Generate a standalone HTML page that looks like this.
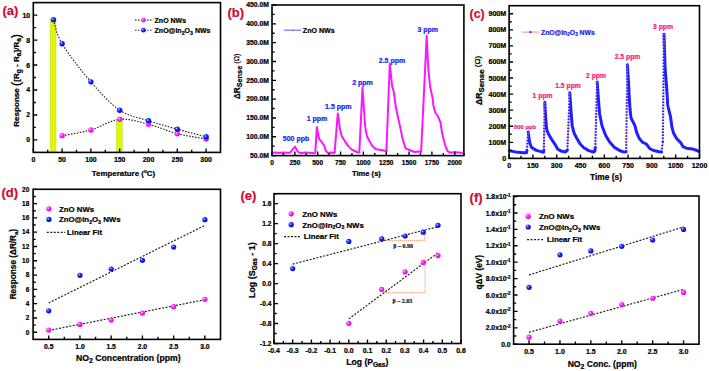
<!DOCTYPE html><html><head><meta charset="utf-8"><style>
html,body{margin:0;padding:0;background:#fff;width:709px;height:371px;overflow:hidden}
svg{display:block}
text{font-family:"Liberation Sans", sans-serif}
</style></head><body>
<svg width="709" height="371" viewBox="0 0 709 371">
<defs>
<radialGradient id="gb" cx="0.35" cy="0.35" r="0.7"><stop offset="0" stop-color="#c8d0ff"/><stop offset="0.35" stop-color="#2030ff"/><stop offset="1" stop-color="#0000d8"/></radialGradient>
<radialGradient id="gp" cx="0.35" cy="0.35" r="0.7"><stop offset="0" stop-color="#ffd0ff"/><stop offset="0.35" stop-color="#ff30ff"/><stop offset="1" stop-color="#e000e0"/></radialGradient>
</defs>
<rect width="709" height="371" fill="#fff"/>

<rect x="50.16" y="19.7" width="5.8" height="132.7" fill="#eaf200" stroke="#a8f048" stroke-width="0.7"/>
<rect x="116.4" y="119.32" width="5.8" height="33.08" fill="#eaf200" stroke="#a8f048" stroke-width="0.7"/>
<path d="M53.46 19.7 L53.81 20.82 L54.17 22.16 L54.54 23.7 L54.95 25.43 L55.43 27.32 L55.98 29.37 L56.63 31.55 L57.41 33.84 L58.32 36.22 L59.39 38.69 L60.65 41.22 L62.1 43.8 L63.79 46.51 L65.73 49.44 L67.88 52.56 L70.21 55.81 L72.67 59.16 L75.24 62.57 L77.88 65.99 L80.55 69.38 L83.23 72.71 L85.87 75.93 L88.44 78.99 L90.9 81.87 L93.3 84.63 L95.7 87.36 L98.1 90.05 L100.5 92.69 L102.9 95.26 L105.3 97.75 L107.7 100.15 L110.1 102.43 L112.5 104.6 L114.9 106.62 L117.3 108.5 L119.7 110.21 L122.1 111.72 L124.5 113.03 L126.9 114.16 L129.3 115.14 L131.7 116 L134.1 116.76 L136.5 117.45 L138.9 118.1 L141.3 118.74 L143.7 119.38 L146.1 120.07 L148.5 120.82 L150.9 121.6 L153.3 122.35 L155.7 123.08 L158.1 123.8 L160.5 124.5 L162.9 125.19 L165.3 125.86 L167.7 126.53 L170.1 127.2 L172.5 127.86 L174.9 128.52 L177.3 129.18 L179.79 129.87 L182.43 130.58 L185.18 131.32 L187.97 132.06 L190.76 132.79 L193.5 133.51 L196.14 134.2 L198.63 134.85 L200.93 135.45 L202.97 135.98 L204.71 136.43 L206.1 136.8" fill="none" stroke="#222" stroke-width="1.15" stroke-dasharray="1.5 1.5"/>
<path d="M62.1 135.67 L63.49 135.41 L65.23 135.1 L67.27 134.75 L69.57 134.36 L72.06 133.93 L74.7 133.46 L77.44 132.96 L80.23 132.42 L83.02 131.84 L85.77 131.24 L88.41 130.6 L90.9 129.93 L93.3 129.17 L95.7 128.26 L98.1 127.25 L100.5 126.18 L102.9 125.06 L105.3 123.95 L107.7 122.88 L110.1 121.88 L112.5 120.99 L114.9 120.24 L117.3 119.67 L119.7 119.32 L122.1 119.18 L124.5 119.2 L126.9 119.37 L129.3 119.67 L131.7 120.07 L134.1 120.57 L136.5 121.13 L138.9 121.75 L141.3 122.39 L143.7 123.05 L146.1 123.69 L148.5 124.31 L150.9 124.95 L153.3 125.67 L155.7 126.44 L158.1 127.26 L160.5 128.11 L162.9 128.98 L165.3 129.84 L167.7 130.7 L170.1 131.52 L172.5 132.3 L174.9 133.03 L177.3 133.68 L179.79 134.27 L182.43 134.85 L185.18 135.4 L187.97 135.92 L190.76 136.42 L193.5 136.88 L196.14 137.31 L198.63 137.71 L200.93 138.07 L202.97 138.4 L204.71 138.68 L206.1 138.92" fill="none" stroke="#222" stroke-width="1.15" stroke-dasharray="1.5 1.5"/>
<circle cx="62.1" cy="135.67" r="2.7" fill="url(#gp)"/>
<circle cx="90.9" cy="129.93" r="2.7" fill="url(#gp)"/>
<circle cx="119.7" cy="119.32" r="2.7" fill="url(#gp)"/>
<circle cx="148.5" cy="124.31" r="2.7" fill="url(#gp)"/>
<circle cx="177.3" cy="133.68" r="2.7" fill="url(#gp)"/>
<circle cx="206.1" cy="138.92" r="2.7" fill="url(#gp)"/>
<circle cx="53.46" cy="19.7" r="2.7" fill="url(#gb)"/>
<circle cx="62.1" cy="43.8" r="2.7" fill="url(#gb)"/>
<circle cx="90.9" cy="81.87" r="2.7" fill="url(#gb)"/>
<circle cx="119.7" cy="110.21" r="2.7" fill="url(#gb)"/>
<circle cx="148.5" cy="120.82" r="2.7" fill="url(#gb)"/>
<circle cx="177.3" cy="129.18" r="2.7" fill="url(#gb)"/>
<circle cx="206.1" cy="136.8" r="2.7" fill="url(#gb)"/>
<rect x="33.3" y="2.6" width="187.2" height="149.8" fill="none" stroke="#000" stroke-width="1.6"/>
<path d="M33.3 152.4V148.4M62.1 152.4V148.4M90.9 152.4V148.4M119.7 152.4V148.4M148.5 152.4V148.4M177.3 152.4V148.4M206.1 152.4V148.4M47.7 152.4V149.8M76.5 152.4V149.8M105.3 152.4V149.8M134.1 152.4V149.8M162.9 152.4V149.8M191.7 152.4V149.8" stroke="#000" stroke-width="1.35"/>
<text x="33.3" y="162" font-size="6.9" text-anchor="middle" font-weight="bold" stroke="#000" stroke-width="0.22">0</text>
<text x="62.1" y="162" font-size="6.9" text-anchor="middle" font-weight="bold" stroke="#000" stroke-width="0.22">50</text>
<text x="90.9" y="162" font-size="6.9" text-anchor="middle" font-weight="bold" stroke="#000" stroke-width="0.22">100</text>
<text x="119.7" y="162" font-size="6.9" text-anchor="middle" font-weight="bold" stroke="#000" stroke-width="0.22">150</text>
<text x="148.5" y="162" font-size="6.9" text-anchor="middle" font-weight="bold" stroke="#000" stroke-width="0.22">200</text>
<text x="177.3" y="162" font-size="6.9" text-anchor="middle" font-weight="bold" stroke="#000" stroke-width="0.22">250</text>
<text x="206.1" y="162" font-size="6.9" text-anchor="middle" font-weight="bold" stroke="#000" stroke-width="0.22">300</text>
<path d="M33.3 139.92H37.3M33.3 114.95H37.3M33.3 89.98H37.3M33.3 65.02H37.3M33.3 40.05H37.3M33.3 15.08H37.3M33.3 127.43H35.9M33.3 102.47H35.9M33.3 77.5H35.9M33.3 52.53H35.9M33.3 27.57H35.9M33.3 152.4H35.9" stroke="#000" stroke-width="1.35"/>
<text x="30.1" y="142.42" font-size="6.9" text-anchor="end" font-weight="bold" stroke="#000" stroke-width="0.22">0</text>
<text x="30.1" y="117.45" font-size="6.9" text-anchor="end" font-weight="bold" stroke="#000" stroke-width="0.22">2</text>
<text x="30.1" y="92.48" font-size="6.9" text-anchor="end" font-weight="bold" stroke="#000" stroke-width="0.22">4</text>
<text x="30.1" y="67.52" font-size="6.9" text-anchor="end" font-weight="bold" stroke="#000" stroke-width="0.22">6</text>
<text x="30.1" y="42.55" font-size="6.9" text-anchor="end" font-weight="bold" stroke="#000" stroke-width="0.22">8</text>
<text x="30.1" y="17.58" font-size="6.9" text-anchor="end" font-weight="bold" stroke="#000" stroke-width="0.22">10</text>
<path d="M135 20.1 L152.6 20.1" fill="none" stroke="#333" stroke-width="1.1" stroke-dasharray="1.5 1.5"/>
<circle cx="143.4" cy="20.1" r="2.4" fill="url(#gp)"/>
<text x="154.6" y="22.8" font-size="7.0" text-anchor="start" font-weight="bold" fill="#000" stroke="#000" stroke-width="0.22" >ZnO NWs</text>
<path d="M135 30.2 L152.6 30.2" fill="none" stroke="#333" stroke-width="1.1" stroke-dasharray="1.5 1.5"/>
<circle cx="143.4" cy="30.2" r="2.4" fill="url(#gb)"/>
<text x="154.6" y="32.9" font-size="7.0" text-anchor="start" font-weight="bold" fill="#000" stroke="#000" stroke-width="0.22" >ZnO@In<tspan font-size="5.3" dy="2">2</tspan><tspan dy="-2">O</tspan><tspan font-size="5.3" dy="2">3</tspan><tspan dy="-2"> NWs</tspan></text>
<text x="123.5" y="176" font-size="7.9" text-anchor="middle" font-weight="bold" fill="#000" stroke="#000" stroke-width="0.22" >Temperature (<tspan font-size="4.8" dy="-2.8">o</tspan><tspan dy="2.8">C)</tspan></text>
<g transform="translate(19.2 80.3) rotate(-90) scale(1.0350)">
<text x="0" y="0" font-size="7.8" text-anchor="middle" font-weight="bold" fill="#000" stroke="#000" stroke-width="0.22" >Response <tspan font-size="12.5" font-weight="normal" dy="0.8">(</tspan><tspan dy="-0.8">[R</tspan><tspan font-size="6.3" dy="1.9">g</tspan><tspan dy="-1.9"> - R</tspan><tspan font-size="6.3" dy="1.9">a</tspan><tspan dy="-1.9">]/R</tspan><tspan font-size="6.3" dy="1.9">a</tspan><tspan dy="-1.1" font-size="12.5" font-weight="normal">)</tspan></text>
</g>
<g transform="translate(2.5 15) scale(1.0000 1.0000)">
<text x="0" y="0" font-size="13" text-anchor="start" font-weight="bold" fill="#d20a32" stroke="#d20a32" stroke-width="0.22" >(a)</text>
</g>
<path d="M272.4 152.8 L275.7 152.4 L279.4 153 L283.2 152.5 L288.9 152.8 L290.3 152.4 L295 146.5 L297.8 151.9 L301.1 153.3 L304.9 152.5 L309.6 152.8 L314.3 153.3 L315.3 152.6 L316.9 126.9 L319 138.9 L321.7 142 L324.3 145.9 L326 151.1 L327.8 152.9 L331 152.5 L334.6 152.9 L337.8 113.4 L340.1 130.1 L341.8 136.2 L344.5 140.6 L348 145.9 L351.5 149.4 L356.8 152 L359.3 152.6 L362.5 87.5 L364 110.2 L365.3 127.4 L366.9 136 L369 140.3 L372.2 145.7 L375.5 149 L380.9 150 L385.2 150.7 L386.4 151.2 L389.8 63.5 L392.1 86.1 L393.8 91.8 L395.7 106 L398.6 120.1 L400.5 128.6 L402.8 139.9 L405.6 148.4 L411.3 150.7 L415 152 L418.5 151.5 L421.1 152 L426.7 35.7 L428.2 67.7 L430.1 86.6 L432.9 99.8 L433.4 105.5 L435.2 112.5 L437.8 116 L440.4 122.2 L442.2 133.6 L444.8 144.1 L447.5 151.1 L450.1 152.5 L456 152.2 L462.8 152.9" fill="none" stroke="#ff14ff" stroke-width="2.0" stroke-linejoin="round"/>
<rect x="272" y="5" width="191.9" height="150.6" fill="none" stroke="#000" stroke-width="1.6"/>
<path d="M272 155.6V151.6M294.85 155.6V151.6M317.69 155.6V151.6M340.54 155.6V151.6M363.38 155.6V151.6M386.23 155.6V151.6M409.07 155.6V151.6M431.92 155.6V151.6M454.76 155.6V151.6M283.42 155.6V153M306.27 155.6V153M329.11 155.6V153M351.96 155.6V153M374.8 155.6V153M397.65 155.6V153M420.49 155.6V153M443.34 155.6V153M463.9 155.6V153" stroke="#000" stroke-width="1.35"/>
<text x="272" y="165" font-size="6.5" text-anchor="middle" font-weight="bold" stroke="#000" stroke-width="0.22">0</text>
<text x="294.85" y="165" font-size="6.5" text-anchor="middle" font-weight="bold" stroke="#000" stroke-width="0.22">250</text>
<text x="317.69" y="165" font-size="6.5" text-anchor="middle" font-weight="bold" stroke="#000" stroke-width="0.22">500</text>
<text x="340.54" y="165" font-size="6.5" text-anchor="middle" font-weight="bold" stroke="#000" stroke-width="0.22">750</text>
<text x="363.38" y="165" font-size="6.5" text-anchor="middle" font-weight="bold" stroke="#000" stroke-width="0.22">1000</text>
<text x="386.23" y="165" font-size="6.5" text-anchor="middle" font-weight="bold" stroke="#000" stroke-width="0.22">1250</text>
<text x="409.07" y="165" font-size="6.5" text-anchor="middle" font-weight="bold" stroke="#000" stroke-width="0.22">1500</text>
<text x="431.92" y="165" font-size="6.5" text-anchor="middle" font-weight="bold" stroke="#000" stroke-width="0.22">1750</text>
<text x="454.76" y="165" font-size="6.5" text-anchor="middle" font-weight="bold" stroke="#000" stroke-width="0.22">2000</text>
<path d="M272 155.6H276M272 136.78H276M272 117.95H276M272 99.12H276M272 80.3H276M272 61.47H276M272 42.65H276M272 23.82H276M272 5H276M272 146.19H274.6M272 127.36H274.6M272 108.54H274.6M272 89.71H274.6M272 70.89H274.6M272 52.06H274.6M272 33.24H274.6M272 14.41H274.6" stroke="#000" stroke-width="1.35"/>
<text x="268.9" y="157.9" font-size="6.8" text-anchor="end" font-weight="bold" stroke="#000" stroke-width="0.22">50.0M</text>
<text x="268.9" y="139.08" font-size="6.8" text-anchor="end" font-weight="bold" stroke="#000" stroke-width="0.22">100.0M</text>
<text x="268.9" y="120.25" font-size="6.8" text-anchor="end" font-weight="bold" stroke="#000" stroke-width="0.22">150.0M</text>
<text x="268.9" y="101.42" font-size="6.8" text-anchor="end" font-weight="bold" stroke="#000" stroke-width="0.22">200.0M</text>
<text x="268.9" y="82.6" font-size="6.8" text-anchor="end" font-weight="bold" stroke="#000" stroke-width="0.22">250.0M</text>
<text x="268.9" y="63.77" font-size="6.8" text-anchor="end" font-weight="bold" stroke="#000" stroke-width="0.22">300.0M</text>
<text x="268.9" y="44.95" font-size="6.8" text-anchor="end" font-weight="bold" stroke="#000" stroke-width="0.22">350.0M</text>
<text x="268.9" y="26.12" font-size="6.8" text-anchor="end" font-weight="bold" stroke="#000" stroke-width="0.22">400.0M</text>
<text x="268.9" y="7.3" font-size="6.8" text-anchor="end" font-weight="bold" stroke="#000" stroke-width="0.22">450.0M</text>
<path d="M284 30.2H301.2" stroke="#4848ff" stroke-width="0.9"/>
<path d="M292.4 30.2H294" stroke="#ff2040" stroke-width="1.1"/>
<text x="302.8" y="32.7" font-size="7.1" text-anchor="start" font-weight="bold" fill="#000" stroke="#000" stroke-width="0.22" >ZnO NWs</text>
<text x="296" y="141.2" font-size="7" text-anchor="middle" font-weight="bold" fill="#2222ee" stroke="#2222ee" stroke-width="0.22" >500 ppb</text>
<text x="317" y="121.3" font-size="7" text-anchor="middle" font-weight="bold" fill="#2222ee" stroke="#2222ee" stroke-width="0.22" >1 ppm</text>
<text x="338.3" y="108.9" font-size="7" text-anchor="middle" font-weight="bold" fill="#2222ee" stroke="#2222ee" stroke-width="0.22" >1.5 ppm</text>
<text x="362.5" y="84.5" font-size="7" text-anchor="middle" font-weight="bold" fill="#2222ee" stroke="#2222ee" stroke-width="0.22" >2 ppm</text>
<text x="392" y="63" font-size="7" text-anchor="middle" font-weight="bold" fill="#2222ee" stroke="#2222ee" stroke-width="0.22" >2.5 ppm</text>
<text x="427.8" y="32.3" font-size="7" text-anchor="middle" font-weight="bold" fill="#2222ee" stroke="#2222ee" stroke-width="0.22" >3 ppm</text>
<text x="366.4" y="176.2" font-size="7.6" text-anchor="middle" font-weight="bold" fill="#000" stroke="#000" stroke-width="0.22" >Time (s)</text>
<g transform="translate(240.1 76.3) rotate(-90) scale(0.9917)">
<text x="0" y="0" font-size="8.2" text-anchor="middle" font-weight="bold" fill="#000" stroke="#000" stroke-width="0.22" >ΔR<tspan font-size="7.4" dy="2.2">Sense</tspan><tspan dy="-3.2" font-size="7.3" font-weight="normal"> (Ω)</tspan></text>
</g>
<g transform="translate(227.4 16.9) scale(1.0000 1.0000)">
<text x="0" y="0" font-size="13" text-anchor="start" font-weight="bold" fill="#d20a32" stroke="#d20a32" stroke-width="0.22" >(b)</text>
</g>
<path d="M509.6 150.8L515.5 151.9L523.1 152.8L526.5 152.8L526.9 150.4M528.2 132.1L529.7 142.8L531.6 147.5L536.3 150.4L542 151.9L543.5 152.3L543.8 150.4M544.8 102.3L545.7 118.3L546.7 129.6L548.6 134.3L551.4 139.1L555.2 144.7L558 149.4L561.8 151.3L565.5 151.9L567.3 150.1M569.8 92.8L571.2 113.7L572.2 125.8L574.1 133.1L576.6 138L580.2 144L583.8 147.7L588.7 150.6L593.6 152L594.8 151.3L595.3 147.7M597.2 81.9L598.4 99.1L599.6 113.7L602 125.8L605.7 135.5L609.3 141.6L614.2 147.2L619 150.1L621.5 151.3L624.5 152.1L626.1 151.8M627.4 64.8L628.5 82.4L629.3 98.5L630.1 110L631 117.8L633.4 122.7L635 125.9L636.6 132.4L639 138L642.3 142.1L646.3 144L648 146.1L649.6 148.5L653.6 150.5L659.3 151.8L661.5 152.1M664 34.2L665.1 68.1L666.8 89.7L667.7 104.7L668 106.5L670.4 116.2L672 127.5L673.6 133.2L676.8 138.8L680.9 142.9L683.3 146.9L686.6 148.2L692.2 148.9L697.1 150.5L698.7 151.5" fill="none" stroke="#2020ff" stroke-width="3.0" stroke-linejoin="round" stroke-linecap="round"/>
<path d="M526.9 150.4L528.2 132.1M543.8 150.4L544.8 102.3M567.3 150.1L569.8 92.8M595.3 147.7L597.2 81.9M626.1 151.8L627.4 64.8M661.5 152.1L662.8 142M662.8 142L664 34.2" fill="none" stroke="#ff9aa8" stroke-width="0.8"/>
<path d="M526.9 150.4L528.2 132.1M543.8 150.4L544.8 102.3M567.3 150.1L569.8 92.8M595.3 147.7L597.2 81.9M626.1 151.8L627.4 64.8M661.5 152.1L662.8 142M662.8 142L664 34.2" fill="none" stroke="#2020ff" stroke-width="2.2" stroke-dasharray="1.6 1.4"/>
<rect x="509.1" y="5.7" width="190.4" height="152.7" fill="none" stroke="#000" stroke-width="1.6"/>
<path d="M509.1 158.4V154.4M532.9 158.4V154.4M556.7 158.4V154.4M580.5 158.4V154.4M604.3 158.4V154.4M628.1 158.4V154.4M651.9 158.4V154.4M675.7 158.4V154.4M699.5 158.4V154.4M521 158.4V155.8M544.8 158.4V155.8M568.6 158.4V155.8M592.4 158.4V155.8M616.2 158.4V155.8M640 158.4V155.8M663.8 158.4V155.8M687.6 158.4V155.8" stroke="#000" stroke-width="1.35"/>
<text x="509.1" y="168" font-size="7.0" text-anchor="middle" font-weight="bold" stroke="#000" stroke-width="0.22">0</text>
<text x="532.9" y="168" font-size="7.0" text-anchor="middle" font-weight="bold" stroke="#000" stroke-width="0.22">150</text>
<text x="556.7" y="168" font-size="7.0" text-anchor="middle" font-weight="bold" stroke="#000" stroke-width="0.22">300</text>
<text x="580.5" y="168" font-size="7.0" text-anchor="middle" font-weight="bold" stroke="#000" stroke-width="0.22">450</text>
<text x="604.3" y="168" font-size="7.0" text-anchor="middle" font-weight="bold" stroke="#000" stroke-width="0.22">600</text>
<text x="628.1" y="168" font-size="7.0" text-anchor="middle" font-weight="bold" stroke="#000" stroke-width="0.22">750</text>
<text x="651.9" y="168" font-size="7.0" text-anchor="middle" font-weight="bold" stroke="#000" stroke-width="0.22">900</text>
<text x="675.7" y="168" font-size="7.0" text-anchor="middle" font-weight="bold" stroke="#000" stroke-width="0.22">1050</text>
<text x="699.5" y="168" font-size="7.0" text-anchor="middle" font-weight="bold" stroke="#000" stroke-width="0.22">1200</text>
<path d="M509.1 158.4H513.1M509.1 142.33H513.1M509.1 126.25H513.1M509.1 110.18H513.1M509.1 94.11H513.1M509.1 78.03H513.1M509.1 61.96H513.1M509.1 45.88H513.1M509.1 29.81H513.1M509.1 13.74H513.1M509.1 150.36H511.7M509.1 134.29H511.7M509.1 118.22H511.7M509.1 102.14H511.7M509.1 86.07H511.7M509.1 69.99H511.7M509.1 53.92H511.7M509.1 37.85H511.7M509.1 21.77H511.7" stroke="#000" stroke-width="1.35"/>
<text x="506.2" y="160.9" font-size="7.1" text-anchor="end" font-weight="bold" stroke="#000" stroke-width="0.22">0</text>
<text x="506.2" y="144.83" font-size="7.1" text-anchor="end" font-weight="bold" stroke="#000" stroke-width="0.22">100M</text>
<text x="506.2" y="128.75" font-size="7.1" text-anchor="end" font-weight="bold" stroke="#000" stroke-width="0.22">200M</text>
<text x="506.2" y="112.68" font-size="7.1" text-anchor="end" font-weight="bold" stroke="#000" stroke-width="0.22">300M</text>
<text x="506.2" y="96.61" font-size="7.1" text-anchor="end" font-weight="bold" stroke="#000" stroke-width="0.22">400M</text>
<text x="506.2" y="80.53" font-size="7.1" text-anchor="end" font-weight="bold" stroke="#000" stroke-width="0.22">500M</text>
<text x="506.2" y="64.46" font-size="7.1" text-anchor="end" font-weight="bold" stroke="#000" stroke-width="0.22">600M</text>
<text x="506.2" y="48.38" font-size="7.1" text-anchor="end" font-weight="bold" stroke="#000" stroke-width="0.22">700M</text>
<text x="506.2" y="32.31" font-size="7.1" text-anchor="end" font-weight="bold" stroke="#000" stroke-width="0.22">800M</text>
<text x="506.2" y="16.24" font-size="7.1" text-anchor="end" font-weight="bold" stroke="#000" stroke-width="0.22">900M</text>
<path d="M521.5 32.1H539" stroke="#ffa0a0" stroke-width="1.2"/>
<circle cx="530.5" cy="32.1" r="1.1" fill="#1a1aff"/>
<text x="541" y="34.5" font-size="6.8" text-anchor="start" font-weight="bold" fill="#2222ee" stroke="#2222ee" stroke-width="0.22" >ZnO@In<tspan font-size="4.6" dy="1.6">2</tspan><tspan dy="-1.6">O</tspan><tspan font-size="4.6" dy="1.6">3</tspan><tspan dy="-1.6"> NWs</tspan></text>
<text x="525.1" y="128.7" font-size="5.9" text-anchor="middle" font-weight="bold" fill="#f52080" stroke="#f52080" stroke-width="0.22" >500 ppb</text>
<text x="542.6" y="98" font-size="6.8" text-anchor="middle" font-weight="bold" fill="#f52080" stroke="#f52080" stroke-width="0.22" >1 ppm</text>
<text x="568" y="87.8" font-size="6.8" text-anchor="middle" font-weight="bold" fill="#f52080" stroke="#f52080" stroke-width="0.22" >1.5 ppm</text>
<text x="596" y="78" font-size="6.8" text-anchor="middle" font-weight="bold" fill="#f52080" stroke="#f52080" stroke-width="0.22" >2 ppm</text>
<text x="627.5" y="59.3" font-size="6.8" text-anchor="middle" font-weight="bold" fill="#f52080" stroke="#f52080" stroke-width="0.22" >2.5 ppm</text>
<text x="663" y="29.3" font-size="6.8" text-anchor="middle" font-weight="bold" fill="#f52080" stroke="#f52080" stroke-width="0.22" >3 ppm</text>
<text x="606" y="179.9" font-size="8.4" text-anchor="middle" font-weight="bold" fill="#000" stroke="#000" stroke-width="0.22" >Time (s)</text>
<g transform="translate(481.7 80.4) rotate(-90) scale(1.0634)">
<text x="0" y="0" font-size="8.2" text-anchor="middle" font-weight="bold" fill="#000" stroke="#000" stroke-width="0.22" >ΔR<tspan font-size="7.4" dy="2.2">Sense</tspan><tspan dy="-3.4" font-size="7.6" font-weight="normal"> (Ω)</tspan></text>
</g>
<g transform="translate(469.6 17.6) scale(0.9500 1.0000)">
<text x="0" y="0" font-size="13" text-anchor="start" font-weight="bold" fill="#d20a32" stroke="#d20a32" stroke-width="0.22" >(c)</text>
</g>
<path d="M48.72 302.95 L204.88 225.4" fill="none" stroke="#222" stroke-width="1.2" stroke-dasharray="2 1.5"/>
<path d="M48.72 330.47 L204.88 299.73" fill="none" stroke="#222" stroke-width="1.2" stroke-dasharray="2 1.5"/>
<circle cx="48.72" cy="310.81" r="2.6" fill="url(#gb)"/>
<circle cx="79.95" cy="275.29" r="2.6" fill="url(#gb)"/>
<circle cx="111.18" cy="269" r="2.6" fill="url(#gb)"/>
<circle cx="142.42" cy="260.35" r="2.6" fill="url(#gb)"/>
<circle cx="173.65" cy="246.98" r="2.6" fill="url(#gb)"/>
<circle cx="204.88" cy="219.68" r="2.6" fill="url(#gb)"/>
<circle cx="48.72" cy="330.11" r="2.6" fill="url(#gp)"/>
<circle cx="79.95" cy="324.39" r="2.6" fill="url(#gp)"/>
<circle cx="111.18" cy="320.1" r="2.6" fill="url(#gp)"/>
<circle cx="142.42" cy="313.1" r="2.6" fill="url(#gp)"/>
<circle cx="173.65" cy="306.66" r="2.6" fill="url(#gp)"/>
<circle cx="204.88" cy="299.37" r="2.6" fill="url(#gp)"/>
<rect x="33.1" y="189.3" width="187.4" height="150.1" fill="none" stroke="#000" stroke-width="1.6"/>
<path d="M48.72 339.4V335.4M79.95 339.4V335.4M111.18 339.4V335.4M142.42 339.4V335.4M173.65 339.4V335.4M204.88 339.4V335.4M64.33 339.4V336.8M95.57 339.4V336.8M126.8 339.4V336.8M158.03 339.4V336.8M189.27 339.4V336.8" stroke="#000" stroke-width="1.35"/>
<text x="48.72" y="349.1" font-size="6.8" text-anchor="middle" font-weight="bold" stroke="#000" stroke-width="0.22">0.5</text>
<text x="79.95" y="349.1" font-size="6.8" text-anchor="middle" font-weight="bold" stroke="#000" stroke-width="0.22">1.0</text>
<text x="111.18" y="349.1" font-size="6.8" text-anchor="middle" font-weight="bold" stroke="#000" stroke-width="0.22">1.5</text>
<text x="142.42" y="349.1" font-size="6.8" text-anchor="middle" font-weight="bold" stroke="#000" stroke-width="0.22">2.0</text>
<text x="173.65" y="349.1" font-size="6.8" text-anchor="middle" font-weight="bold" stroke="#000" stroke-width="0.22">2.5</text>
<text x="204.88" y="349.1" font-size="6.8" text-anchor="middle" font-weight="bold" stroke="#000" stroke-width="0.22">3.0</text>
<path d="M33.1 332.25H37.1M33.1 317.96H37.1M33.1 303.66H37.1M33.1 289.37H37.1M33.1 275.07H37.1M33.1 260.78H37.1M33.1 246.48H37.1M33.1 232.19H37.1M33.1 217.89H37.1M33.1 203.6H37.1M33.1 189.3H37.1M33.1 325.1H35.7M33.1 310.81H35.7M33.1 296.51H35.7M33.1 282.22H35.7M33.1 267.92H35.7M33.1 253.63H35.7M33.1 239.33H35.7M33.1 225.04H35.7M33.1 210.74H35.7M33.1 196.45H35.7" stroke="#000" stroke-width="1.35"/>
<text x="29.2" y="334.55" font-size="6.4" text-anchor="end" font-weight="bold" stroke="#000" stroke-width="0.22">0</text>
<text x="29.2" y="320.26" font-size="6.4" text-anchor="end" font-weight="bold" stroke="#000" stroke-width="0.22">2</text>
<text x="29.2" y="305.96" font-size="6.4" text-anchor="end" font-weight="bold" stroke="#000" stroke-width="0.22">4</text>
<text x="29.2" y="291.67" font-size="6.4" text-anchor="end" font-weight="bold" stroke="#000" stroke-width="0.22">6</text>
<text x="29.2" y="277.37" font-size="6.4" text-anchor="end" font-weight="bold" stroke="#000" stroke-width="0.22">8</text>
<text x="29.2" y="263.08" font-size="6.4" text-anchor="end" font-weight="bold" stroke="#000" stroke-width="0.22">10</text>
<text x="29.2" y="248.78" font-size="6.4" text-anchor="end" font-weight="bold" stroke="#000" stroke-width="0.22">12</text>
<text x="29.2" y="234.49" font-size="6.4" text-anchor="end" font-weight="bold" stroke="#000" stroke-width="0.22">14</text>
<text x="29.2" y="220.19" font-size="6.4" text-anchor="end" font-weight="bold" stroke="#000" stroke-width="0.22">16</text>
<text x="29.2" y="205.9" font-size="6.4" text-anchor="end" font-weight="bold" stroke="#000" stroke-width="0.22">18</text>
<text x="29.2" y="191.6" font-size="6.4" text-anchor="end" font-weight="bold" stroke="#000" stroke-width="0.22">20</text>
<circle cx="48.9" cy="208.8" r="2.6" fill="url(#gp)"/>
<text x="59" y="211.6" font-size="7.8" text-anchor="start" font-weight="bold" fill="#000" stroke="#000" stroke-width="0.22" >ZnO NWs</text>
<circle cx="48.9" cy="219.4" r="2.6" fill="url(#gb)"/>
<text x="59" y="222.2" font-size="7.8" text-anchor="start" font-weight="bold" fill="#000" stroke="#000" stroke-width="0.22" >ZnO@In<tspan font-size="5.2" dy="1.8">2</tspan><tspan dy="-1.8">O</tspan><tspan font-size="5.2" dy="1.8">3</tspan><tspan dy="-1.8"> NWs</tspan></text>
<path d="M46.8 232.3 L65.3 232.3" fill="none" stroke="#222" stroke-width="1.2" stroke-dasharray="2 1.5"/>
<text x="67" y="235" font-size="7.8" text-anchor="start" font-weight="bold" fill="#000" stroke="#000" stroke-width="0.22" >Linear Fit</text>
<text x="128.3" y="360.9" font-size="8.7" text-anchor="middle" font-weight="bold" fill="#000" stroke="#000" stroke-width="0.22" >NO<tspan font-size="7" dy="2.2">2</tspan><tspan dy="-2.2"> Concentration (ppm)</tspan></text>
<g transform="translate(15.8 264.1) rotate(-90) scale(0.9924)">
<text x="0" y="0" font-size="8.3" text-anchor="middle" font-weight="bold" fill="#000" stroke="#000" stroke-width="0.22" >Response (ΔR/R<tspan font-size="6" dy="1.8">a</tspan><tspan dy="-1.8">)</tspan></text>
</g>
<g transform="translate(1.5 197.4) scale(1.0000 1.0000)">
<text x="0" y="0" font-size="13" text-anchor="start" font-weight="bold" fill="#d20a32" stroke="#d20a32" stroke-width="0.22" >(d)</text>
</g>
<path d="M384.1 240.4H424.6V231.6" fill="none" stroke="#f4906c" stroke-width="1.0" stroke-dasharray="1.1 0.9"/>
<path d="M384.1 292.7H425.1V256" fill="none" stroke="#f4906c" stroke-width="1.0" stroke-dasharray="1.1 0.9"/>
<path d="M292.7 264.11 L438 226.66" fill="none" stroke="#222" stroke-width="1.2" stroke-dasharray="2 1.5"/>
<path d="M348.8 318.88 L438 252.77" fill="none" stroke="#222" stroke-width="1.2" stroke-dasharray="2 1.5"/>
<circle cx="292.7" cy="268.6" r="2.6" fill="url(#gb)"/>
<circle cx="348.8" cy="241.44" r="2.6" fill="url(#gb)"/>
<circle cx="381.71" cy="238.94" r="2.6" fill="url(#gb)"/>
<circle cx="405.09" cy="235.99" r="2.6" fill="url(#gb)"/>
<circle cx="423.23" cy="232.15" r="2.6" fill="url(#gb)"/>
<circle cx="438" cy="225.36" r="2.6" fill="url(#gb)"/>
<circle cx="348.8" cy="323.33" r="2.6" fill="url(#gp)"/>
<circle cx="381.71" cy="289.42" r="2.6" fill="url(#gp)"/>
<circle cx="405.09" cy="271.95" r="2.6" fill="url(#gp)"/>
<circle cx="423.23" cy="262.41" r="2.6" fill="url(#gp)"/>
<circle cx="438" cy="255.57" r="2.6" fill="url(#gp)"/>
<rect x="274" y="193.7" width="187" height="149.8" fill="none" stroke="#000" stroke-width="1.6"/>
<path d="M274 343.5V339.5M292.7 343.5V339.5M311.4 343.5V339.5M330.1 343.5V339.5M348.8 343.5V339.5M367.5 343.5V339.5M386.2 343.5V339.5M404.9 343.5V339.5M423.6 343.5V339.5M442.3 343.5V339.5M461 343.5V339.5M283.35 343.5V340.9M302.05 343.5V340.9M320.75 343.5V340.9M339.45 343.5V340.9M358.15 343.5V340.9M376.85 343.5V340.9M395.55 343.5V340.9M414.25 343.5V340.9M432.95 343.5V340.9M451.65 343.5V340.9" stroke="#000" stroke-width="1.35"/>
<text x="274" y="352.9" font-size="6.9" text-anchor="middle" font-weight="bold" stroke="#000" stroke-width="0.22">-0.4</text>
<text x="292.7" y="352.9" font-size="6.9" text-anchor="middle" font-weight="bold" stroke="#000" stroke-width="0.22">-0.3</text>
<text x="311.4" y="352.9" font-size="6.9" text-anchor="middle" font-weight="bold" stroke="#000" stroke-width="0.22">-0.2</text>
<text x="330.1" y="352.9" font-size="6.9" text-anchor="middle" font-weight="bold" stroke="#000" stroke-width="0.22">-0.1</text>
<text x="348.8" y="352.9" font-size="6.9" text-anchor="middle" font-weight="bold" stroke="#000" stroke-width="0.22">0.0</text>
<text x="367.5" y="352.9" font-size="6.9" text-anchor="middle" font-weight="bold" stroke="#000" stroke-width="0.22">0.1</text>
<text x="386.2" y="352.9" font-size="6.9" text-anchor="middle" font-weight="bold" stroke="#000" stroke-width="0.22">0.2</text>
<text x="404.9" y="352.9" font-size="6.9" text-anchor="middle" font-weight="bold" stroke="#000" stroke-width="0.22">0.3</text>
<text x="423.6" y="352.9" font-size="6.9" text-anchor="middle" font-weight="bold" stroke="#000" stroke-width="0.22">0.4</text>
<text x="442.3" y="352.9" font-size="6.9" text-anchor="middle" font-weight="bold" stroke="#000" stroke-width="0.22">0.5</text>
<text x="461" y="352.9" font-size="6.9" text-anchor="middle" font-weight="bold" stroke="#000" stroke-width="0.22">0.6</text>
<path d="M274 343.5H278M274 323.53H278M274 303.55H278M274 283.58H278M274 263.61H278M274 243.63H278M274 223.66H278M274 203.69H278M274 333.51H276.6M274 313.54H276.6M274 293.57H276.6M274 273.59H276.6M274 253.62H276.6M274 233.65H276.6M274 213.67H276.6M274 193.7H276.6" stroke="#000" stroke-width="1.35"/>
<text x="271.4" y="345.8" font-size="6.6" text-anchor="end" font-weight="bold" stroke="#000" stroke-width="0.22">-1.2</text>
<text x="271.4" y="325.83" font-size="6.6" text-anchor="end" font-weight="bold" stroke="#000" stroke-width="0.22">-0.8</text>
<text x="271.4" y="305.85" font-size="6.6" text-anchor="end" font-weight="bold" stroke="#000" stroke-width="0.22">-0.4</text>
<text x="271.4" y="285.88" font-size="6.6" text-anchor="end" font-weight="bold" stroke="#000" stroke-width="0.22">0.0</text>
<text x="271.4" y="265.91" font-size="6.6" text-anchor="end" font-weight="bold" stroke="#000" stroke-width="0.22">0.4</text>
<text x="271.4" y="245.93" font-size="6.6" text-anchor="end" font-weight="bold" stroke="#000" stroke-width="0.22">0.8</text>
<text x="271.4" y="225.96" font-size="6.6" text-anchor="end" font-weight="bold" stroke="#000" stroke-width="0.22">1.2</text>
<text x="271.4" y="205.99" font-size="6.6" text-anchor="end" font-weight="bold" stroke="#000" stroke-width="0.22">1.6</text>
<text x="403.2" y="248.4" font-size="6.0" text-anchor="middle" font-weight="bold" fill="#222" stroke="#222" stroke-width="0.22" style="font-family:'Liberation Serif', serif">β – 0.98</text>
<text x="402.4" y="303" font-size="6.0" text-anchor="middle" font-weight="bold" fill="#222" stroke="#222" stroke-width="0.22" style="font-family:'Liberation Serif', serif">β – 2.83</text>
<circle cx="291.2" cy="213.8" r="2.6" fill="url(#gp)"/>
<text x="302.3" y="216.6" font-size="7.8" text-anchor="start" font-weight="bold" fill="#000" stroke="#000" stroke-width="0.22" >ZnO NWs</text>
<circle cx="291.2" cy="224.7" r="2.6" fill="url(#gb)"/>
<text x="302.3" y="227.5" font-size="7.8" text-anchor="start" font-weight="bold" fill="#000" stroke="#000" stroke-width="0.22" >ZnO@In<tspan font-size="5.2" dy="1.8">2</tspan><tspan dy="-1.8">O</tspan><tspan font-size="5.2" dy="1.8">3</tspan><tspan dy="-1.8"> NWs</tspan></text>
<path d="M284 236.6 L301.3 236.6" fill="none" stroke="#222" stroke-width="1.2" stroke-dasharray="2 1.5"/>
<text x="303.8" y="239.3" font-size="7.8" text-anchor="start" font-weight="bold" fill="#000" stroke="#000" stroke-width="0.22" >Linear Fit</text>
<text x="367.3" y="365.3" font-size="8.6" text-anchor="middle" font-weight="bold" fill="#000" stroke="#000" stroke-width="0.22" >Log (P<tspan font-size="6.6" dy="2">Gas</tspan><tspan dy="-2">)</tspan></text>
<g transform="translate(255 270.2) rotate(-90) scale(1.0751)">
<text x="0" y="0" font-size="8.3" text-anchor="middle" font-weight="bold" fill="#000" stroke="#000" stroke-width="0.22" >Log (S<tspan font-size="6" dy="2">Gas</tspan><tspan dy="-2"> - 1)</tspan></text>
</g>
<g transform="translate(240.5 199.6) scale(1.0000 1.0000)">
<text x="0" y="0" font-size="13" text-anchor="start" font-weight="bold" fill="#d20a32" stroke="#d20a32" stroke-width="0.22" >(e)</text>
</g>
<path d="M529.05 274.9 L683.55 226.92" fill="none" stroke="#222" stroke-width="1.2" stroke-dasharray="2 1.5"/>
<path d="M529.05 332.31 L683.55 289.41" fill="none" stroke="#222" stroke-width="1.2" stroke-dasharray="2 1.5"/>
<circle cx="529.05" cy="287.36" r="2.6" fill="url(#gb)"/>
<circle cx="559.95" cy="254.8" r="2.6" fill="url(#gb)"/>
<circle cx="590.85" cy="250.95" r="2.6" fill="url(#gb)"/>
<circle cx="621.75" cy="246.36" r="2.6" fill="url(#gb)"/>
<circle cx="652.65" cy="240.04" r="2.6" fill="url(#gb)"/>
<circle cx="683.55" cy="229.38" r="2.6" fill="url(#gb)"/>
<circle cx="529.05" cy="337.15" r="2.6" fill="url(#gp)"/>
<circle cx="559.95" cy="320.99" r="2.6" fill="url(#gp)"/>
<circle cx="590.85" cy="313.36" r="2.6" fill="url(#gp)"/>
<circle cx="621.75" cy="304.51" r="2.6" fill="url(#gp)"/>
<circle cx="652.65" cy="298.27" r="2.6" fill="url(#gp)"/>
<circle cx="683.55" cy="292.45" r="2.6" fill="url(#gp)"/>
<rect x="513.6" y="196" width="185.4" height="148.2" fill="none" stroke="#000" stroke-width="1.6"/>
<path d="M529.05 344.2V340.2M559.95 344.2V340.2M590.85 344.2V340.2M621.75 344.2V340.2M652.65 344.2V340.2M683.55 344.2V340.2M544.5 344.2V341.6M575.4 344.2V341.6M606.3 344.2V341.6M637.2 344.2V341.6M668.1 344.2V341.6" stroke="#000" stroke-width="1.35"/>
<text x="529.05" y="353.5" font-size="7.0" text-anchor="middle" font-weight="bold" stroke="#000" stroke-width="0.22">0.5</text>
<text x="559.95" y="353.5" font-size="7.0" text-anchor="middle" font-weight="bold" stroke="#000" stroke-width="0.22">1.0</text>
<text x="590.85" y="353.5" font-size="7.0" text-anchor="middle" font-weight="bold" stroke="#000" stroke-width="0.22">1.5</text>
<text x="621.75" y="353.5" font-size="7.0" text-anchor="middle" font-weight="bold" stroke="#000" stroke-width="0.22">2.0</text>
<text x="652.65" y="353.5" font-size="7.0" text-anchor="middle" font-weight="bold" stroke="#000" stroke-width="0.22">2.5</text>
<text x="683.55" y="353.5" font-size="7.0" text-anchor="middle" font-weight="bold" stroke="#000" stroke-width="0.22">3.0</text>
<path d="M513.6 344.2H517.6M513.6 327.8H517.6M513.6 311.39H517.6M513.6 294.99H517.6M513.6 278.59H517.6M513.6 262.19H517.6M513.6 245.78H517.6M513.6 229.38H517.6M513.6 212.98H517.6M513.6 196.57H517.6M513.6 336H516.2M513.6 319.6H516.2M513.6 303.19H516.2M513.6 286.79H516.2M513.6 270.39H516.2M513.6 253.98H516.2M513.6 237.58H516.2M513.6 221.18H516.2M513.6 204.78H516.2" stroke="#000" stroke-width="1.35"/>
<text x="510.6" y="346.8" font-size="6.8" text-anchor="end" font-weight="bold" stroke="#000" stroke-width="0.22">0.0</text>
<text x="510.6" y="330.4" font-size="6.8" text-anchor="end" font-weight="bold" stroke="#000" stroke-width="0.22">2.0x10<tspan font-size="4.6" dy="-2.6">-2</tspan></text>
<text x="510.6" y="313.99" font-size="6.8" text-anchor="end" font-weight="bold" stroke="#000" stroke-width="0.22">4.0x10<tspan font-size="4.6" dy="-2.6">-2</tspan></text>
<text x="510.6" y="297.59" font-size="6.8" text-anchor="end" font-weight="bold" stroke="#000" stroke-width="0.22">6.0x10<tspan font-size="4.6" dy="-2.6">-2</tspan></text>
<text x="510.6" y="281.19" font-size="6.8" text-anchor="end" font-weight="bold" stroke="#000" stroke-width="0.22">8.0x10<tspan font-size="4.6" dy="-2.6">-2</tspan></text>
<text x="510.6" y="264.79" font-size="6.8" text-anchor="end" font-weight="bold" stroke="#000" stroke-width="0.22">1.0x10<tspan font-size="4.6" dy="-2.6">-1</tspan></text>
<text x="510.6" y="248.38" font-size="6.8" text-anchor="end" font-weight="bold" stroke="#000" stroke-width="0.22">1.2x10<tspan font-size="4.6" dy="-2.6">-1</tspan></text>
<text x="510.6" y="231.98" font-size="6.8" text-anchor="end" font-weight="bold" stroke="#000" stroke-width="0.22">1.4x10<tspan font-size="4.6" dy="-2.6">-1</tspan></text>
<text x="510.6" y="215.58" font-size="6.8" text-anchor="end" font-weight="bold" stroke="#000" stroke-width="0.22">1.6x10<tspan font-size="4.6" dy="-2.6">-1</tspan></text>
<text x="510.6" y="199.17" font-size="6.8" text-anchor="end" font-weight="bold" stroke="#000" stroke-width="0.22">1.8x10<tspan font-size="4.6" dy="-2.6">-1</tspan></text>
<circle cx="528.2" cy="216.4" r="2.6" fill="url(#gp)"/>
<text x="538.9" y="219.2" font-size="7.8" text-anchor="start" font-weight="bold" fill="#000" stroke="#000" stroke-width="0.22" >ZnO NWs</text>
<circle cx="528.2" cy="227" r="2.6" fill="url(#gb)"/>
<text x="538.9" y="229.8" font-size="7.8" text-anchor="start" font-weight="bold" fill="#000" stroke="#000" stroke-width="0.22" >ZnO@In<tspan font-size="5.2" dy="1.8">2</tspan><tspan dy="-1.8">O</tspan><tspan font-size="5.2" dy="1.8">3</tspan><tspan dy="-1.8"> NWs</tspan></text>
<path d="M527 239.7 L543.4 239.7" fill="none" stroke="#222" stroke-width="1.2" stroke-dasharray="2 1.5"/>
<text x="547" y="242.4" font-size="7.8" text-anchor="start" font-weight="bold" fill="#000" stroke="#000" stroke-width="0.22" >Linear Fit</text>
<text x="602.3" y="367" font-size="8.6" text-anchor="middle" font-weight="bold" fill="#000" stroke="#000" stroke-width="0.22" >NO<tspan font-size="7" dy="2.2">2</tspan><tspan dy="-2.2"> Conc. (ppm)</tspan></text>
<g transform="translate(482 272.2) rotate(-90) scale(1.0013)">
<text x="0" y="0" font-size="8.3" text-anchor="middle" font-weight="bold" fill="#000" stroke="#000" stroke-width="0.22" >qΔV (eV)</text>
</g>
<g transform="translate(469.6 202.2) scale(1.0000 1.0000)">
<text x="0" y="0" font-size="13" text-anchor="start" font-weight="bold" fill="#d20a32" stroke="#d20a32" stroke-width="0.22" >(f)</text>
</g>
</svg></body></html>
